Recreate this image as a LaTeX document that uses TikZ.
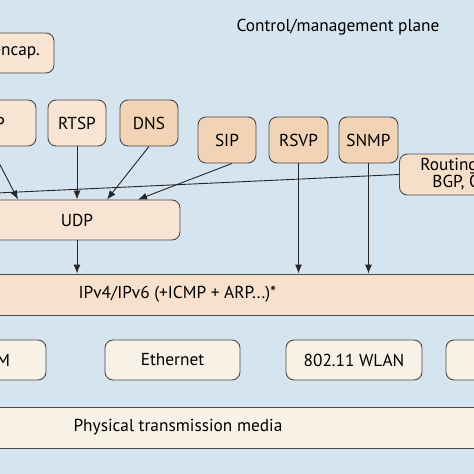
\documentclass[tikz,border=0pt]{standalone}
\usepackage{fontspec}
\setmainfont{PT Sans}
\usetikzlibrary{arrows.meta}
\definecolor{bgblue}{HTML}{D6E4EF}
\definecolor{peachlight}{HTML}{F7E4D3}
\definecolor{peachdark}{HTML}{F2D3B5}
\definecolor{peachmid}{HTML}{F6DFC8}
\definecolor{bandpeach}{HTML}{F7E1CD}
\definecolor{cream}{HTML}{F7F1E6}
\definecolor{edge}{HTML}{4A4A4A}
\tikzset{
  box/.style={draw=edge, line width=0.9pt, rounded corners=8pt, inner sep=0pt, anchor=center},
  band/.style={draw=edge, line width=0.9pt, inner sep=0pt, anchor=center},
  arr/.style={draw=black!85, line width=0.9pt, -{Latex[length=9pt,width=7pt]}},
  ln/.style={draw=black!85, line width=0.9pt},
  lbl/.style={font=\fontsize{17.3}{15}\selectfont}
}
\begin{document}
\begin{tikzpicture}[x=1pt,y=-1pt, every node/.style={lbl}]
\useasboundingbox (0,0) rectangle (474,474);
\clip (0,0) rectangle (474,474);
\fill[bgblue] (-5,-5) rectangle (480,480);
\node (plane) at (338,27) {Control/management plane};
% application layer
\node[box, fill=peachlight, minimum width=76pt, minimum height=40pt] (encap) at (16,53) {encap.};
\node[box, fill=peachlight, minimum width=91pt, minimum height=46pt] (rtp) at (-9.5,123) {RTP};
\node[box, fill=peachlight, minimum width=58pt, minimum height=46pt] (rtsp) at (77,123) {RTSP};
\node[box, fill=peachdark, minimum width=58pt, minimum height=46pt] (dns) at (149,123) {DNS};
\node[box, fill=peachdark, minimum width=58pt, minimum height=46pt] (sip) at (227,140) {SIP};
\node[box, fill=peachdark, minimum width=59pt, minimum height=46pt] (rsvp) at (298.5,140) {RSVP};
\node[box, fill=peachdark, minimum width=59pt, minimum height=46pt] (snmp) at (368.5,140) {SNMP};
\node[box, fill=peachmid, minimum height=41pt, anchor=west, inner xsep=21pt, align=left] (routing) at (399,174.5) {Routing (RIP,\\\hspace*{12pt}BGP, OSPF)};
% transport
\node[box, fill=peachlight, minimum width=206pt, minimum height=40pt] (udp) at (77,220) {UDP};
% network band
\node[band, fill=bandpeach, minimum width=654pt, minimum height=41pt] (ip) at (177.5,294.5) {IPv4/IPv6 (+ICMP + ARP...)*};
% link layer
\node[box, fill=cream, minimum width=104pt, minimum height=40pt] (atm) at (-6,360) {ATM};
\node[box, fill=cream, minimum width=135pt, minimum height=40pt] (eth) at (172.5,360) {Ethernet};
\node[box, fill=cream, minimum width=136pt, minimum height=40pt] (wlan) at (354,360) {802.11 WLAN};
\node[box, fill=cream, minimum width=136pt, minimum height=40pt] (more) at (514,360) {};
% physical band
\node[band, fill=cream, minimum width=654pt, minimum height=41pt] (phy) at (178,427.5) {Physical transmission media};
% connectors
\coordinate (tcpend) at (-60,195.6);
\draw[ln] (routing.west) -- (tcpend);
\draw[arr] (rtp.south) -- ([xshift=-59pt]udp.north);
\draw[arr] (rtsp.south) -- (udp.north);
\draw[arr] (dns.south) -- ([xshift=30pt]udp.north);
\draw[arr] ([xshift=5pt]sip.south) -- ([xshift=61pt]udp.north);
\draw[arr] (udp.south) -- (udp.south |- ip.north);
\draw[arr] (rsvp.south) -- (rsvp.south |- ip.north);
\draw[arr] (snmp.south) -- (snmp.south |- ip.north);
\end{tikzpicture}
\end{document}
